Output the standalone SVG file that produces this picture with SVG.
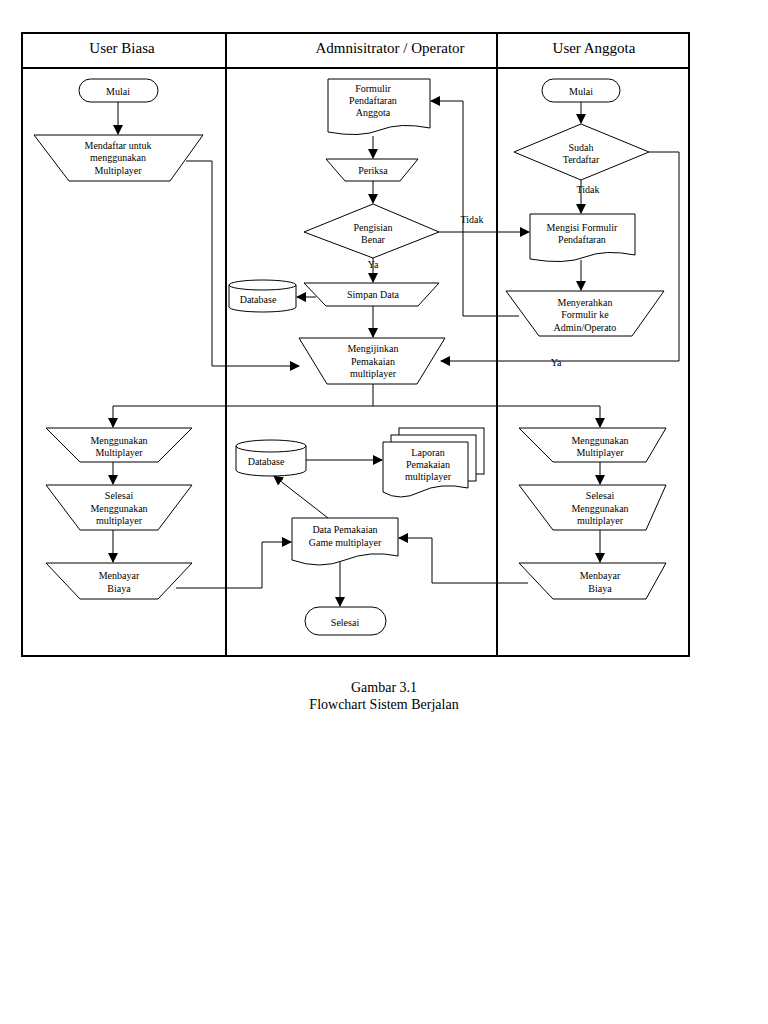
<svg xmlns="http://www.w3.org/2000/svg" width="768" height="1024" viewBox="0 0 768 1024">
<defs>
<marker id="ah" markerWidth="10" markerHeight="10" refX="9" refY="5" orient="auto" markerUnits="userSpaceOnUse"><path d="M0,0 L10,5 L0,10 Z" fill="#000"/></marker>
<style>
.s{fill:#fff;stroke:#000;stroke-width:1}
.c{fill:none;stroke:#000;stroke-width:1}
.a{fill:none;stroke:#000;stroke-width:1;marker-end:url(#ah)}
.f{stroke:#000;stroke-width:2;fill:none}
text{font-family:"Liberation Serif",serif;font-size:10px;text-anchor:middle;fill:#000}
.h{font-size:15px}
.cap{font-size:14px}
</style>
</defs>
<rect width="768" height="1024" fill="#fff"/>
<g id="frame">
<rect class="f" x="22" y="33" width="667" height="623"/>
<line class="f" x1="22" y1="68" x2="689" y2="68"/>
<line class="f" x1="226" y1="33" x2="226" y2="656"/>
<line class="f" x1="497" y1="33" x2="497" y2="656"/>
<text class="h" x="122" y="53">User Biasa</text>
<text class="h" x="390" y="53">Admnisitrator / Operator</text>
<text class="h" x="594" y="53">User Anggota</text>
</g>
<g id="connectors">
<line class="a" x1="118" y1="102" x2="118" y2="134"/>
<polyline class="a" points="186,161 212,161 212,366 299,366"/>
<line class="a" x1="373" y1="136" x2="373" y2="158"/>
<line class="a" x1="373" y1="181" x2="373" y2="203"/>
<line class="a" x1="373" y1="258" x2="373" y2="282"/>
<line class="a" x1="316" y1="297" x2="297" y2="297"/>
<line class="a" x1="373" y1="306" x2="373" y2="337"/>
<polyline class="c" points="373,384 373,406"/>
<polyline class="a" points="373,406 113,406 113,427"/>
<polyline class="a" points="373,406 600,406 600,427"/>
<line class="a" x1="439" y1="232" x2="529" y2="232"/>
<polyline class="a" points="519,316 463,316 463,101 431,101"/>
<line class="a" x1="581" y1="102" x2="581" y2="123"/>
<polyline class="a" points="649,152 679,152 679,361 441,361"/>
<line class="a" x1="581" y1="180" x2="581" y2="213"/>
<line class="a" x1="581" y1="260" x2="581" y2="290"/>
<line class="a" x1="113" y1="462" x2="113" y2="484"/>
<line class="a" x1="113" y1="530" x2="113" y2="562"/>
<line class="a" x1="600" y1="462" x2="600" y2="484"/>
<line class="a" x1="600" y1="530" x2="600" y2="562"/>
<polyline class="a" points="176,588 262,588 262,542 291,542"/>
<polyline class="a" points="528,583 432,583 432,538 399,538"/>
<line class="a" x1="306" y1="460" x2="382" y2="460"/>
<line class="a" x1="328" y1="518" x2="274" y2="476"/>
<line class="a" x1="340" y1="558" x2="340" y2="606"/>
<text x="472" y="223">Tidak</text>
<text x="373" y="268">Ya</text>
<text x="588" y="193">Tidak</text>
<text x="556" y="366">Ya</text>
</g>
<g id="mulai1"><rect class="s" x="79" y="79" width="79" height="23" rx="11.5"/><text x="118" y="95">Mulai</text></g>
<g id="mendaftar"><polygon class="s" points="34,135 203,135 170,181 69,181"/><text x="118" y="149">Mendaftar untuk</text><text x="118" y="161">menggunakan</text><text x="118" y="174">Multiplayer</text></g>
<g id="formulir"><path class="s" d="M328,79 H430 V128 Q400,122 380,130 T328,132 Z"/><text x="373" y="92">Formulir</text><text x="373" y="104">Pendaftaran</text><text x="373" y="116">Anggota</text></g>
<g id="periksa"><polygon class="s" points="326,159 418,159 400,181 345,181"/><text x="373" y="174">Periksa</text></g>
<g id="pengisian"><polygon class="s" points="373,204 439,232 373,258 304,232"/><text x="373" y="231">Pengisian</text><text x="373" y="243">Benar</text></g>
<g id="simpan"><polygon class="s" points="304,283 439,283 418,306 326,306"/><text x="373" y="298">Simpan Data</text></g>
<g id="db1"><path class="s" d="M229,285 A33.5,5 0 0 1 296,285 V307 A33.5,5 0 0 1 229,307 Z"/><path class="c" d="M229,285 A33.5,5 0 0 0 296,285"/><text x="258" y="303">Database</text></g>
<g id="mengijinkan"><polygon class="s" points="299,338 445,338 417,384 327,384"/><text x="373" y="352">Mengijinkan</text><text x="373" y="365">Pemakaian</text><text x="373" y="377">multiplayer</text></g>
<g id="mulai2"><rect class="s" x="542" y="79" width="78" height="23" rx="11.5"/><text x="581" y="95">Mulai</text></g>
<g id="sudah"><polygon class="s" points="581,124 649,152 581,180 514,152"/><text x="581" y="151">Sudah</text><text x="581" y="163">Terdaftar</text></g>
<g id="mengisi"><path class="s" d="M530,214 H635 V255 Q605,249 585,257 T530,259 Z"/><text x="582" y="231">Mengisi Formulir</text><text x="582" y="243">Pendaftaran</text></g>
<g id="menyerahkan"><polygon class="s" points="506,291 664,291 632,336 539,336"/><text x="585" y="306">Menyerahkan</text><text x="585" y="318">Formulir ke</text><text x="585" y="331">Admin/Operato</text></g>
<g id="menggunakan1"><polygon class="s" points="46,428 192,428 158,462 80,462"/><text x="119" y="444">Menggunakan</text><text x="119" y="456">Multiplayer</text></g>
<g id="selesai1"><polygon class="s" points="46,485 192,485 158,530 80,530"/><text x="119" y="499">Selesai</text><text x="119" y="512">Menggunakan</text><text x="119" y="524">multiplayer</text></g>
<g id="membayar1"><polygon class="s" points="46,563 192,563 158,599 80,599"/><text x="119" y="579">Menbayar</text><text x="119" y="592">Biaya</text></g>
<g id="menggunakan2"><polygon class="s" points="519,428 666,428 646,462 553,462"/><text x="600" y="444">Menggunakan</text><text x="600" y="456">Multiplayer</text></g>
<g id="selesai2"><polygon class="s" points="519,485 666,485 646,530 553,530"/><text x="600" y="499">Selesai</text><text x="600" y="512">Menggunakan</text><text x="600" y="524">multiplayer</text></g>
<g id="membayar2"><polygon class="s" points="519,563 666,563 646,599 553,599"/><text x="600" y="579">Menbayar</text><text x="600" y="592">Biaya</text></g>
<g id="db2"><path class="s" d="M236,446 A35,6 0 0 1 306,446 V470 A35,6 0 0 1 236,470 Z"/><path class="c" d="M236,446 A35,6 0 0 0 306,446"/><text x="266" y="465">Database</text></g>
<g id="laporan"><rect class="s" x="399" y="428" width="85" height="46"/><rect class="s" x="391" y="435" width="85" height="46"/><path class="s" d="M383,442 H468 V488 Q440,482 420,492 T383,492 Z"/><text x="428" y="456">Laporan</text><text x="428" y="468">Pemakaian</text><text x="428" y="480">multiplayer</text></g>
<g id="datapemakaian"><path class="s" d="M292,518 H398 V556 Q370,550 345,560 T292,560 Z"/><text x="345" y="533">Data Pemakaian</text><text x="345" y="546">Game multiplayer</text></g>
<g id="selesai"><rect class="s" x="305" y="607" width="81" height="28" rx="14"/><text x="345" y="626">Selesai</text></g>
<g id="caption"><text class="cap" x="384" y="692">Gambar 3.1</text><text class="cap" x="384" y="709">Flowchart Sistem Berjalan</text></g>
</svg>
